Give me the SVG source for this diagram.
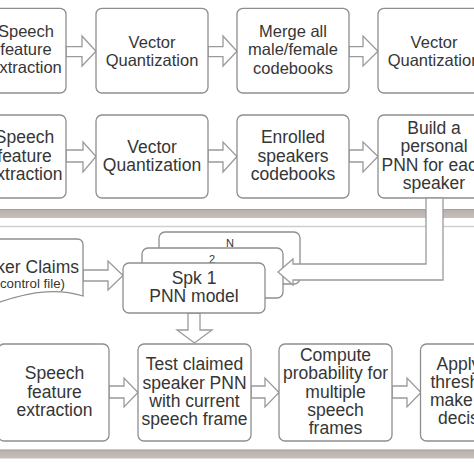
<svg xmlns="http://www.w3.org/2000/svg" width="474" height="474" viewBox="0 0 474 474">
<defs>
<style>
.box{fill:#fff;stroke:#8e8e8e;stroke-width:1.3}
.arr{fill:#fff;stroke:#9a9a9a;stroke-width:1.3;stroke-linejoin:miter}
.t{font-family:"Liberation Sans",Arial,sans-serif;fill:#363636;text-anchor:middle}
.s1{font-size:16.5px}
.s2{font-size:17.5px}
.st{text-anchor:start}
.en{text-anchor:end}
</style>
<linearGradient id="band" x1="0" y1="0" x2="0" y2="1">
<stop offset="0" stop-color="#9c9492"/>
<stop offset="0.15" stop-color="#b9b1ae"/>
<stop offset="1" stop-color="#c6bfbc"/>
</linearGradient>
</defs>
<rect width="474" height="474" fill="#fff"/>
<g id="separators">
<rect x="0" y="209" width="474" height="9" fill="url(#band)"/>
<line x1="0" y1="226.5" x2="474" y2="226.5" stroke="#cfcfcf" stroke-width="1.5"/>
<rect x="0" y="449.5" width="474" height="9" fill="url(#band)"/>
</g>
<g id="connectors">
<polygon class="arr" points="66,46.7 82,46.7 82,36 96,51.3 82,66 82,56.7 66,56.7"/>
<polygon class="arr" points="208,46.7 223,46.7 223,36 237,51.3 223,66 223,56.7 208,56.7"/>
<polygon class="arr" points="349,46.7 363,46.7 363,36 378,51.3 363,66 363,56.7 349,56.7"/>
<polygon class="arr" points="66,150 83,150 83,142 96,156.5 83,172 83,162 66,162"/>
<polygon class="arr" points="208,150 223,150 223,142 237,156.5 223,172 223,162 208,162"/>
<polygon class="arr" points="349,150 363,150 363,142 378,156.5 363,172 363,162 349,162"/>
<polygon class="arr" points="83,270 108,270 108,261 123,275.5 108,290 108,281 83,281"/>
<polygon class="arr" points="188,313 188,330 177,330 194.5,343 212,330 200,330 200,313"/>
<polygon class="arr" points="109,386 124,386 124,378 138,392.5 124,407 124,398 109,398"/>
<polygon class="arr" points="251,386 265,386 265,378 279,392.5 265,407 265,398 251,398"/>
<polygon class="arr" points="392,386 407,386 407,378 421,392.5 407,407 407,398 392,398"/>
</g>
<g id="n1"><rect class="box" x="-45" y="8.3" width="111" height="84.7" rx="6"/>
<text class="t s1" x="26" y="37">Speech</text><text class="t s1" x="26" y="55">feature</text><text class="t s1" x="26" y="73">extraction</text></g>
<g id="n2"><rect class="box" x="96" y="8.3" width="112" height="84.7" rx="6"/>
<text class="t s1" x="152" y="47.5">Vector</text><text class="t s1" x="152" y="65.5">Quantization</text></g>
<g id="n3"><rect class="box" x="237" y="8.3" width="112" height="84.7" rx="6"/>
<text class="t s1" x="293" y="36.5">Merge all</text><text class="t s1" x="293" y="55">male/female</text><text class="t s1" x="293" y="73.5">codebooks</text></g>
<g id="n4"><rect class="box" x="378" y="8.3" width="112" height="84.7" rx="6"/>
<text class="t s1" x="434" y="47.5">Vector</text><text class="t s1" x="434" y="65.5">Quantization</text></g>
<g id="n5"><rect class="box" x="-45" y="115" width="111" height="83" rx="6"/>
<text class="t s2" x="24.5" y="143">Speech</text><text class="t s2" x="24.5" y="161.5">feature</text><text class="t s2" x="24.5" y="180">extraction</text></g>
<g id="n6"><rect class="box" x="96" y="115" width="112" height="83" rx="6"/>
<text class="t s2" x="152" y="152.5">Vector</text><text class="t s2" x="152" y="171">Quantization</text></g>
<g id="n7"><rect class="box" x="237" y="115" width="112" height="83" rx="6"/>
<text class="t s2" x="293" y="142.7">Enrolled</text><text class="t s2" x="293" y="161.5">speakers</text><text class="t s2" x="293" y="180">codebooks</text></g>
<g id="n8"><rect class="box" x="378" y="115" width="112" height="83" rx="6"/>
<text class="t s2" x="434" y="133.5">Build a</text><text class="t s2" x="434" y="152">personal</text><text class="t s2" x="434" y="170.5">PNN for each</text><text class="t s2" x="434" y="188.5">speaker</text></g>
<g id="claims"><path class="box" d="M-60,239 H77 Q83,239 83,245 V296 C60,289 35,290 0,302 C-20,308 -40,306 -60,300 Z"/>
<text class="t s2 en" x="79" y="273">Speaker Claims</text><text class="t en" style="font-size:13.3px" x="65" y="288">(control file)</text></g>
<g id="pnnN"><rect class="box" x="159" y="232" width="141" height="52" rx="6"/>
<text class="t" style="font-size:11px" x="230" y="247">N</text></g>
<g id="pnn2"><rect class="box" x="142" y="248" width="141" height="50" rx="6"/>
<text class="t" style="font-size:11px" x="212" y="263">2</text></g>
<g id="pnn1"><rect class="box" x="123" y="263" width="142" height="50" rx="6"/>
<text class="t s2" x="194" y="284">Spk 1</text><text class="t s2" x="194" y="302">PNN model</text></g>
<g id="feedback"><polygon class="arr" points="443,198 443,280 293,280 293,285 278,272 293,259 293,264 426,264 426,198"/></g>
<g id="n9"><rect class="box" x="-2" y="344" width="111" height="97" rx="6"/>
<text class="t s2" x="54.5" y="379">Speech</text><text class="t s2" x="54.5" y="397.5">feature</text><text class="t s2" x="54.5" y="416">extraction</text></g>
<g id="n10"><rect class="box" x="138" y="344" width="113" height="97" rx="6"/>
<text class="t s2" x="194.5" y="370">Test claimed</text><text class="t s2" x="194.5" y="388.5">speaker PNN</text><text class="t s2" x="194.5" y="406.5">with current</text><text class="t s2" x="194.5" y="424.5">speech frame</text></g>
<g id="n11"><rect class="box" x="279" y="344" width="113" height="97" rx="6"/>
<text class="t s2" x="335.5" y="360.7">Compute</text><text class="t s2" x="335.5" y="379">probability for</text><text class="t s2" x="335.5" y="397.5">multiple</text><text class="t s2" x="335.5" y="416">speech</text><text class="t s2" x="335.5" y="434">frames</text></g>
<g id="n12"><rect class="box" x="420.5" y="344" width="113" height="97" rx="6"/>
<text class="t s2 st" x="436.5" y="369.5">Apply the</text><text class="t s2 st" x="430.5" y="387.5">threshold to</text><text class="t s2 st" x="430" y="405.5">make the</text><text class="t s2 st" x="438" y="423.5">decision</text></g>
</svg>
